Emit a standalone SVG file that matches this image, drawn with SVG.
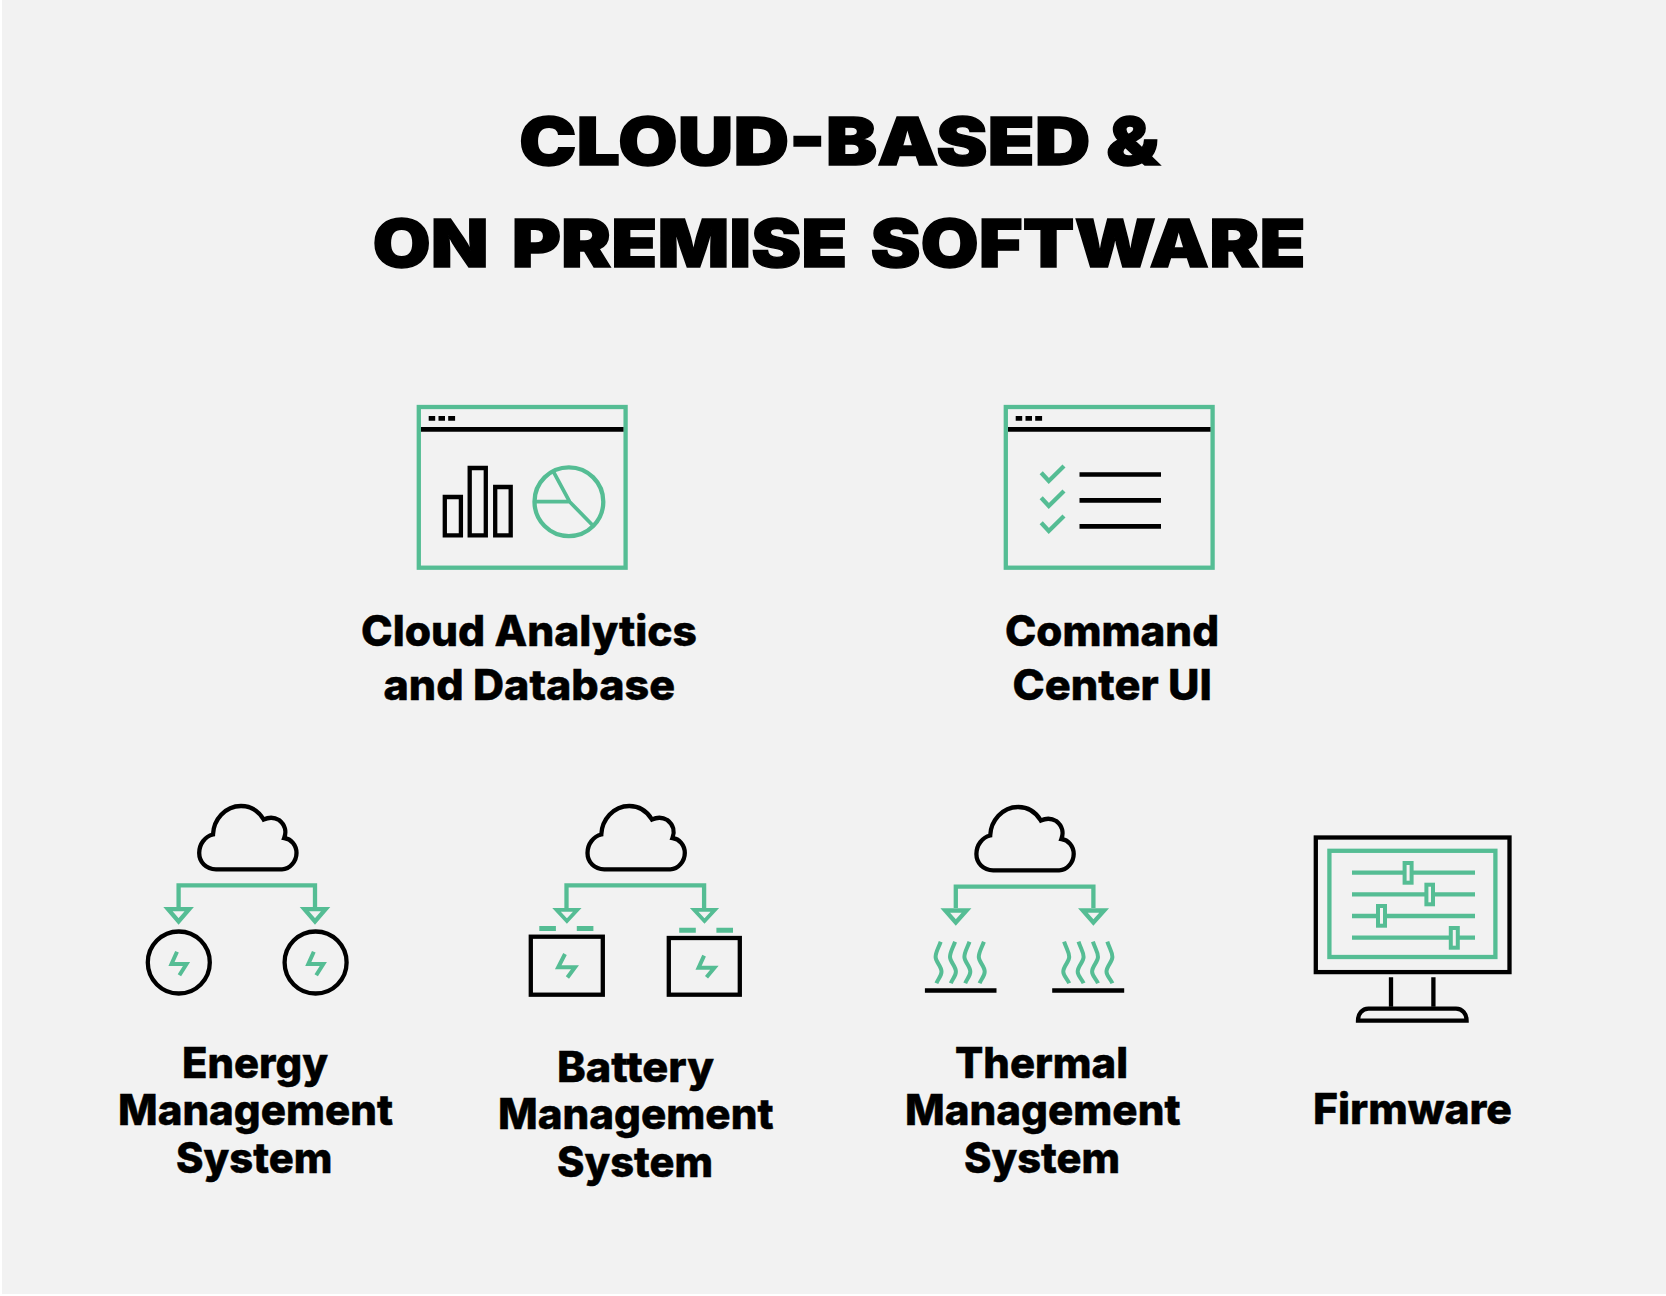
<svg xmlns="http://www.w3.org/2000/svg" width="1666" height="1296" viewBox="0 0 1666 1296">
<style>
.t{font-family:"Inter","Liberation Sans",sans-serif;font-weight:900;font-size:65.5px;fill:#000;stroke:#000;stroke-width:1.3px}
.w{word-spacing:7px}
.l{font-family:"Inter","Liberation Sans",sans-serif;font-weight:800;font-size:42.5px;fill:#000;stroke:#000;stroke-width:.5px}
.g{fill:none;stroke:#55bd94;stroke-width:4.3}
.k{fill:none;stroke:#000;stroke-width:4.3}
.gt{fill:none;stroke:#55bd94;stroke-width:4}
.h{fill:#f2f2f2;stroke:#55bd94;stroke-width:4}
.k5{stroke-width:4.7}
.g5{stroke-width:5}
.a{stroke-width:3.7}
</style>
<defs>
<path id="cloud" d="M216 869.3H282C290 869.3 296.5 861 296.5 853C296.5 845 291 839 284.2 838C286.5 832 285.5 825 279 820C274 817 268 817.5 263.6 819.5C258 810 250 806 241 806C225 806 213.5 820 213 834.5C205 836.5 199.2 844 199.2 853C199.2 862 206 869.3 216 869.3Z"/>
<path id="dots" d="M428.7 416h6.5v4.7h-6.5zM438.5 416h6.5v4.7h-6.5zM448.2 416h6.9v4.7h-6.9z"/>
<path id="chk" d="M1041.2 472.7L1048.8 481L1064 466"/>
<path id="wave" d="M940.7 941.7C938 949 935.6 952 935.6 957C935.6 962 941.5 966 941.5 971.7C941.5 976 938 979 936.4 983.3"/>
<path id="wavem" d="M1064.1 941.7C1066.5 949 1069.2 952 1069.2 957C1069.2 962 1063.3 966 1063.3 971.7C1063.3 976 1067.5 979 1069.2 983.3"/>
</defs>
<rect width="1666" height="1296" fill="#fff"/>
<rect x="2" y="0" width="1664" height="1294" fill="#f2f2f2"/>
<g id="title">
<text class="t" x="519" y="165" textLength="640.5" lengthAdjust="spacingAndGlyphs">CLOUD-BASED &amp;</text>
<text class="t w" x="372.5" y="266.7" textLength="933" lengthAdjust="spacingAndGlyphs">ON PREMISE SOFTWARE</text>
</g>
<g id="cloud-analytics">
<rect class="g" x="418.8" y="407" width="206.8" height="160.7"/>
<path d="M421 429.3H623.5" class="k k5"/>
<use href="#dots"/>
<path class="k" d="M444.8 497h16.1v38.3h-16.1zM469.7 468h16.1v67.3h-16.1zM495.2 487h15.5v48.3h-15.5z"/>
<circle class="g" cx="568.9" cy="501.7" r="34.4"/>
<path class="g a" d="M553.4 471.7L569.6 501.7L592.4 525M535.5 501.7H569.6"/>
<text class="l" x="361" y="645.5" textLength="336" lengthAdjust="spacingAndGlyphs">Cloud Analytics</text>
<text class="l" x="383.5" y="699.5" textLength="291.5" lengthAdjust="spacingAndGlyphs">and Database</text>
</g>
<g id="command-center">
<rect class="g" x="1005.8" y="407" width="206.8" height="160.7"/>
<path d="M1008 429.3H1210.5" class="k k5"/>
<use href="#dots" x="587"/>
<use href="#chk" class="g"/>
<use href="#chk" class="g" y="25"/>
<use href="#chk" class="g" y="50"/>
<path class="k k5" d="M1079.5 474.5H1161M1079.5 500.3H1161M1079.5 526.3H1161"/>
<text class="l" x="1005" y="645.5" textLength="214" lengthAdjust="spacingAndGlyphs">Command</text>
<text class="l" x="1012.5" y="699.5" textLength="199.5" lengthAdjust="spacingAndGlyphs">Center UI</text>
</g>
<g id="energy">
<use href="#cloud" class="k"/>
<circle class="k" cx="178.8" cy="962.5" r="31"/>
<circle class="k" cx="315.6" cy="962.5" r="31"/>
<path class="gt" d="M177 951.7L171.5 964H186.5L179.4 975.3M313.8 951.7L308.3 964H323.3L316.2 975.3"/>
<text class="l" x="182" y="1078.3" textLength="146" lengthAdjust="spacingAndGlyphs">Energy</text>
<text class="l" x="118" y="1125" textLength="275" lengthAdjust="spacingAndGlyphs">Management</text>
<text class="l" x="176" y="1172.5" textLength="156.5" lengthAdjust="spacingAndGlyphs">System</text>
</g>
<g id="battery">
<use href="#cloud" class="k" x="388.3"/>
<path class="g g5" d="M539.3 928.5H555.9M576.8 928.5H593.4M679.2 930.3H695.8M716.4 930.3H733"/>
<rect class="k" x="530.8" y="936.7" width="72" height="58"/>
<rect class="k" x="668.8" y="938" width="71" height="56.7"/>
<path class="gt" d="M565 954L558.2 967.3H575L567.4 977.5M704.1 955.7L698.6 967.7H714.4L706.5 977.3"/>
<text class="l" x="557" y="1082.3" textLength="157" lengthAdjust="spacingAndGlyphs">Battery</text>
<text class="l" x="498" y="1129" textLength="275.5" lengthAdjust="spacingAndGlyphs">Management</text>
<text class="l" x="557" y="1176.5" textLength="156" lengthAdjust="spacingAndGlyphs">System</text>
</g>
<g id="thermal">
<use href="#cloud" class="k" x="777.2" y="1"/>
<g class="gt">
<use href="#wave"/><use href="#wave" x="14.4"/><use href="#wave" x="28.8"/><use href="#wave" x="43.2"/>
<use href="#wavem"/><use href="#wavem" x="14.4"/><use href="#wavem" x="28.8"/><use href="#wavem" x="43.2"/>
</g>
<path class="k" d="M924.9 990.5H996.5M1052.2 990.5H1124.2"/>
<text class="l" x="955" y="1078.3" textLength="173" lengthAdjust="spacingAndGlyphs">Thermal</text>
<text class="l" x="905" y="1125" textLength="275.5" lengthAdjust="spacingAndGlyphs">Management</text>
<text class="l" x="964" y="1172.5" textLength="156" lengthAdjust="spacingAndGlyphs">System</text>
</g>
<g id="firmware">
<rect class="k" x="1315.8" y="837.5" width="193.7" height="134.6"/>
<rect class="g" x="1329.4" y="850.8" width="166" height="106.2"/>
<path class="g" d="M1352 872.7H1475M1352 894.3H1475M1352 916H1475M1352 937.7H1475"/>
<rect class="h" x="1404.6" y="863" width="7" height="19.7"/>
<rect class="h" x="1426.4" y="884.7" width="6.6" height="19.6"/>
<rect class="h" x="1378" y="906" width="7" height="19.7"/>
<rect class="h" x="1450.8" y="928" width="7" height="19.7"/>
<path class="k" d="M1391 977.3V1006.7M1433.4 977.3V1006.7"/>
<path class="k" d="M1358 1020.7C1358 1014 1362 1008.7 1368.5 1008.7H1456C1462.5 1008.7 1466.6 1014 1466.6 1020.7Z"/>
<text class="l" x="1313" y="1124" textLength="199" lengthAdjust="spacingAndGlyphs">Firmware</text>
</g>
<g id="connectors">
<path class="g" d="M178.6 907V885.3H315V907"/>
<path class="g" d="M168 909.2H189.2L178.6 921.5ZM304.4 909.2H325.6L315 921.5Z"/>
<path class="g" d="M566.5 908V885.3H704.1V908"/>
<path class="g a" d="M556.5 909.8H577.3L566.9 921ZM694.1 909.8H714.9L704.5 921Z"/>
<path class="g" d="M955.8 908V886.7H1093.4V908"/>
<path class="g" d="M945.2 910.5H966.6L955.8 922.5ZM1082.8 910.5H1104.2L1093.4 922.5Z"/>
</g>
</svg>
